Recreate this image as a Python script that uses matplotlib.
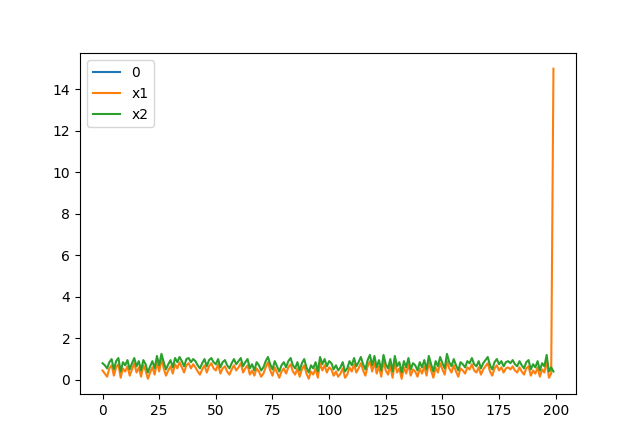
import numpy as np
import matplotlib
matplotlib.use('Agg')
import matplotlib.pyplot as plt

# hand-read values, x = 0..199
x1 = [0.45, 0.30, 0.15, 0.55, 0.70, 0.20, 0.60, 0.75, 0.10, 0.55,
      0.40, 0.65, 0.20, 0.50, 0.80, 0.35, 0.60, 0.15, 0.70, 0.45,
      0.05, 0.35, 0.60, 0.25, 0.85, 0.40, 1.00, 0.55, 0.20, 0.45,
      0.65, 0.30, 0.75, 0.55, 0.85, 0.60, 0.35, 0.70, 0.80, 0.55,
      0.75, 0.60, 0.40, 0.25, 0.50, 0.70, 0.35, 0.65, 0.80, 0.55,
      0.45, 0.75, 0.30, 0.55, 0.65, 0.40, 0.25, 0.50, 0.70, 0.45,
      0.60, 0.80, 0.35, 0.55, 0.70, 0.25, 0.45, 0.20, 0.55, 0.40,
      0.15, 0.30, 0.60, 0.85, 0.45, 0.20, 0.60, 0.35, 0.10, 0.40,
      0.55, 0.30, 0.60, 0.75, 0.40, 0.25, 0.55, 0.15, 0.50, 0.70,
      0.30, 0.05, 0.40, 0.25, 0.55, 0.10, 0.80, 0.45, 0.70, 0.35,
      0.60, 0.50, 0.20, 0.40, 0.15, 0.30, 0.55, 0.10, 0.25, 0.60,
      0.40, 0.75, 0.35, 0.55, 0.80, 0.45, 0.20, 0.65, 0.90, 0.40,
      0.85, 0.30, 0.65, 0.15, 0.90, 0.45, 0.25, 0.70, 0.10, 0.85,
      0.35, 0.55, 0.05, 0.60, 0.30, 0.75, 0.20, 0.50, 0.40, 0.15,
      0.55, 0.30, 0.65, 0.20, 0.85, 0.45, 0.10, 0.60, 0.35, 0.80,
      0.50, 0.25, 0.90, 0.55, 0.35, 0.70, 0.40, 0.15, 0.55, 0.45,
      0.30, 0.60, 0.50, 0.75, 0.45, 0.35, 0.60, 0.25, 0.50, 0.65,
      0.80, 0.40, 0.20, 0.55, 0.70, 0.45, 0.60, 0.35, 0.55, 0.60,
      0.50, 0.65, 0.45, 0.35, 0.60, 0.40, 0.25, 0.55, 0.65, 0.20,
      0.45, 0.30, 0.60, 0.15, 0.50, 0.35, 0.90, 0.10, 0.30, 15.0]
x2 = [0.80, 0.70, 0.55, 0.85, 1.00, 0.50, 0.90, 1.05, 0.40, 0.85,
      0.70, 0.95, 0.50, 0.80, 1.05, 0.65, 0.90, 0.45, 0.95, 0.75,
      0.35, 0.65, 0.90, 0.55, 1.15, 0.70, 1.25, 0.85, 0.50, 0.75,
      0.95, 0.60, 1.05, 0.85, 1.10, 0.90, 0.65, 1.00, 1.05, 0.85,
      1.00, 0.90, 0.70, 0.55, 0.80, 1.00, 0.65, 0.95, 1.05, 0.85,
      0.75, 1.00, 0.60, 0.85, 0.95, 0.70, 0.55, 0.80, 1.00, 0.75,
      0.90, 1.05, 0.65, 0.85, 1.00, 0.55, 0.75, 0.45, 0.85, 0.70,
      0.45, 0.60, 0.90, 1.10, 0.75, 0.50, 0.90, 0.65, 0.40, 0.70,
      0.85, 0.60, 0.90, 1.05, 0.70, 0.55, 0.85, 0.45, 0.80, 1.00,
      0.60, 0.35, 0.70, 0.55, 0.85, 0.40, 1.10, 0.75, 1.00, 0.65,
      0.90, 0.80, 0.50, 0.70, 0.45, 0.60, 0.85, 0.40, 0.55, 0.90,
      0.70, 1.05, 0.65, 0.85, 1.10, 0.75, 0.50, 0.95, 1.20, 0.70,
      1.15, 0.60, 0.95, 0.45, 1.20, 0.75, 0.55, 1.00, 0.40, 1.15,
      0.65, 0.85, 0.35, 0.90, 0.60, 1.05, 0.50, 0.80, 0.70, 0.45,
      0.85, 0.60, 0.95, 0.50, 1.15, 0.75, 0.40, 0.90, 0.65, 1.10,
      0.80, 0.55, 1.25, 0.85, 0.65, 1.00, 0.70, 0.45, 0.85, 0.75,
      0.60, 0.90, 0.80, 1.05, 0.75, 0.65, 0.90, 0.55, 0.80, 0.95,
      1.10, 0.70, 0.50, 0.85, 1.00, 0.75, 0.90, 0.65, 0.85, 0.90,
      0.80, 0.95, 0.75, 0.65, 0.90, 0.70, 0.55, 0.85, 0.95, 0.50,
      0.75, 0.60, 0.90, 0.45, 0.80, 0.65, 1.20, 0.40, 0.60, 0.40]
series0 = [np.nan] * len(x1)
x = np.arange(len(x1))

fig, ax = plt.subplots(figsize=(6.4, 4.43), dpi=100)
ax.plot(x, series0, label='0')
ax.plot(x, x1, label='x1')
ax.plot(x, x2, label='x2')
ax.legend(loc='upper left')
fig.savefig('out.png')
